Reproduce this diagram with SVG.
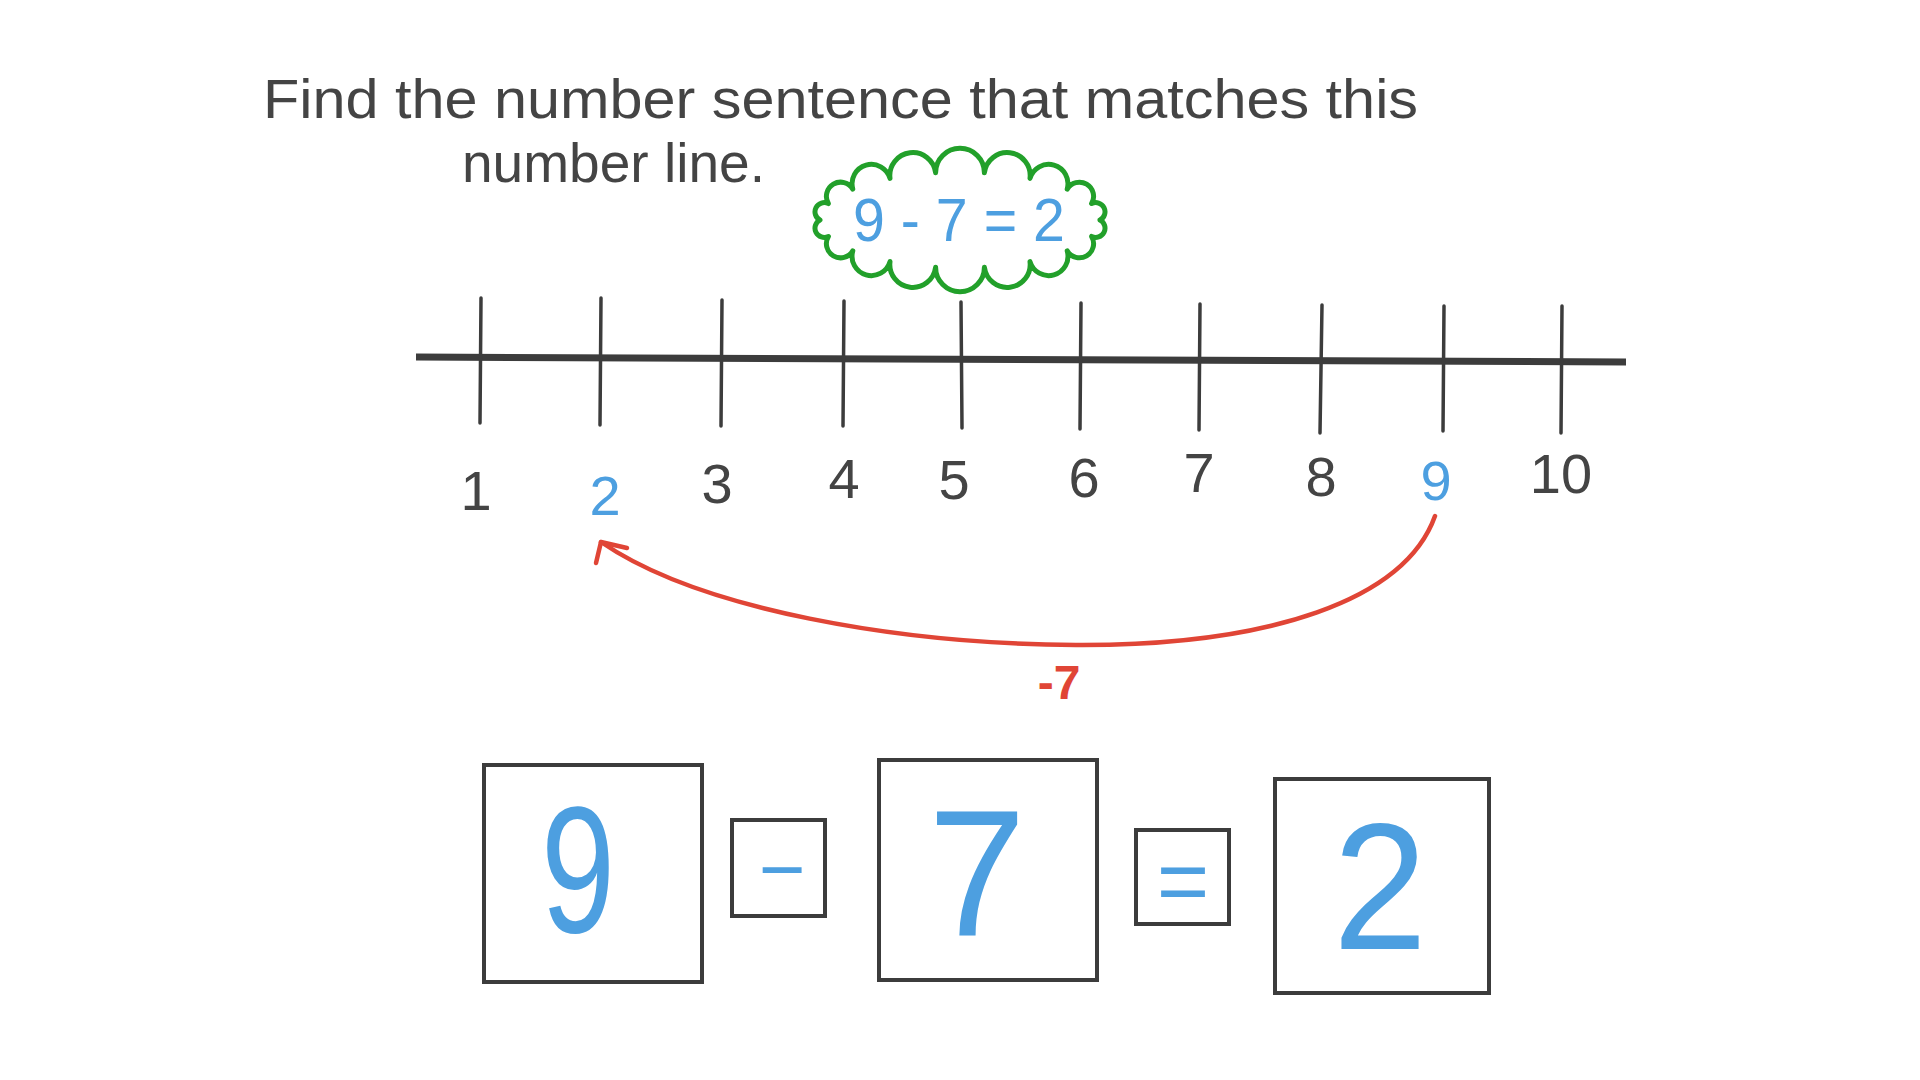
<svg xmlns="http://www.w3.org/2000/svg" width="1920" height="1080" viewBox="0 0 1920 1080">
<style>
  .dark { fill: #444; font-family: "Liberation Sans", Arial, sans-serif; }
  .blue { fill: #4d9fe0; font-family: "Liberation Sans", Arial, sans-serif; }
  .red { fill: #e04536; font-family: "Liberation Sans", Arial, sans-serif; }
  .tick { stroke: #3c3c3c; stroke-width: 3.5; stroke-linecap: round; }
  .box { fill: none; stroke: #3c3c3c; stroke-width: 4; }
  .lbl { font-size: 56px; text-anchor: middle; }
  .big { font-size: 180px; }
</style>
<rect width="1920" height="1080" fill="#ffffff"/>

<g id="title">
  <text class="dark" x="263" y="118" font-size="56" textLength="1155" lengthAdjust="spacingAndGlyphs">Find the number sentence that matches this</text>
  <text class="dark" x="462" y="182" font-size="56" textLength="303" lengthAdjust="spacingAndGlyphs">number line.</text>
</g>

<g id="cloud">
  <path fill="none" stroke="#22a02a" stroke-width="5" stroke-linejoin="round"
    d="M1100,220 A1,1 0 0 1 1091.6,236.4 A1,1 0 0 1 1067.2,250.9 A1,1 0 0 1 1030,261.6 A1,1 0 0 1 984.4,267.3 A1,1 0 0 1 935.6,267.3 A1,1 0 0 1 890,261.6 A1,1 0 0 1 852.8,250.9 A1,1 0 0 1 828.4,236.4 A1,1 0 0 1 820,220 A1,1 0 0 1 828.4,203.6 A1,1 0 0 1 852.8,189.1 A1,1 0 0 1 890,178.4 A1,1 0 0 1 935.6,172.7 A1,1 0 0 1 984.4,172.7 A1,1 0 0 1 1030,178.4 A1,1 0 0 1 1067.2,189.1 A1,1 0 0 1 1091.6,203.6 A1,1 0 0 1 1100,220 Z"/>
  <text class="blue" x="853" y="241" font-size="62" textLength="212" lengthAdjust="spacingAndGlyphs">9 - 7 = 2</text>
</g>

<g id="number-line">
  <line x1="416" y1="357" x2="1626" y2="362" stroke="#3c3c3c" stroke-width="7"/>
  <line class="tick" x1="481" y1="298" x2="480" y2="423"/>
  <line class="tick" x1="601" y1="298" x2="600" y2="425"/>
  <line class="tick" x1="722" y1="300" x2="721" y2="426"/>
  <line class="tick" x1="844" y1="301" x2="843" y2="426"/>
  <line class="tick" x1="961" y1="302" x2="962" y2="428"/>
  <line class="tick" x1="1081" y1="303" x2="1080" y2="429"/>
  <line class="tick" x1="1200" y1="304" x2="1199" y2="430"/>
  <line class="tick" x1="1322" y1="305" x2="1320" y2="433"/>
  <line class="tick" x1="1444" y1="306" x2="1443" y2="431"/>
  <line class="tick" x1="1562" y1="306" x2="1561" y2="433"/>
</g>

<g id="labels">
  <text class="dark lbl" x="476" y="510">1</text>
  <text class="blue lbl" x="605" y="515" font-size="62">2</text>
  <text class="dark lbl" x="717" y="503">3</text>
  <text class="dark lbl" x="844" y="498">4</text>
  <text class="dark lbl" x="954" y="499">5</text>
  <text class="dark lbl" x="1084" y="497">6</text>
  <text class="dark lbl" x="1199" y="492">7</text>
  <text class="dark lbl" x="1321" y="496">8</text>
  <text class="blue lbl" x="1436" y="500">9</text>
  <text class="dark lbl" x="1561" y="493">10</text>
</g>

<g id="connectors">
  <path d="M1435,516 C1405,600 1270,646 1076,645 C900,644 700,610 601,542" fill="none" stroke="#e04536" stroke-width="4.5" stroke-linecap="round"/>
  <path d="M627,548 L601,542 L596,563" fill="none" stroke="#e04536" stroke-width="4.5" stroke-linecap="round" stroke-linejoin="round"/>
  <text class="red" x="1059" y="699" font-size="48" font-weight="bold" text-anchor="middle">-7</text>
</g>

<g id="box-9">
  <rect class="box" x="484" y="765" width="218" height="217"/>
  <text class="blue big" x="541" y="932" textLength="74" lengthAdjust="spacingAndGlyphs">9</text>
</g>
<g id="box-minus">
  <rect class="box" x="732" y="820" width="93" height="96"/>
  <text class="blue" x="782" y="897" font-size="80" text-anchor="middle">−</text>
</g>
<g id="box-7">
  <rect class="box" x="879" y="760" width="218" height="220"/>
  <text class="blue big" x="928" y="936" textLength="98" lengthAdjust="spacingAndGlyphs">7</text>
</g>
<g id="box-equals">
  <rect class="box" x="1136" y="830" width="93" height="94"/>
  <text class="blue" x="1183" y="912" font-size="90" text-anchor="middle">=</text>
</g>
<g id="box-2">
  <rect class="box" x="1275" y="779" width="214" height="214"/>
  <text class="blue big" x="1333" y="949" textLength="94" lengthAdjust="spacingAndGlyphs">2</text>
</g>
</svg>
